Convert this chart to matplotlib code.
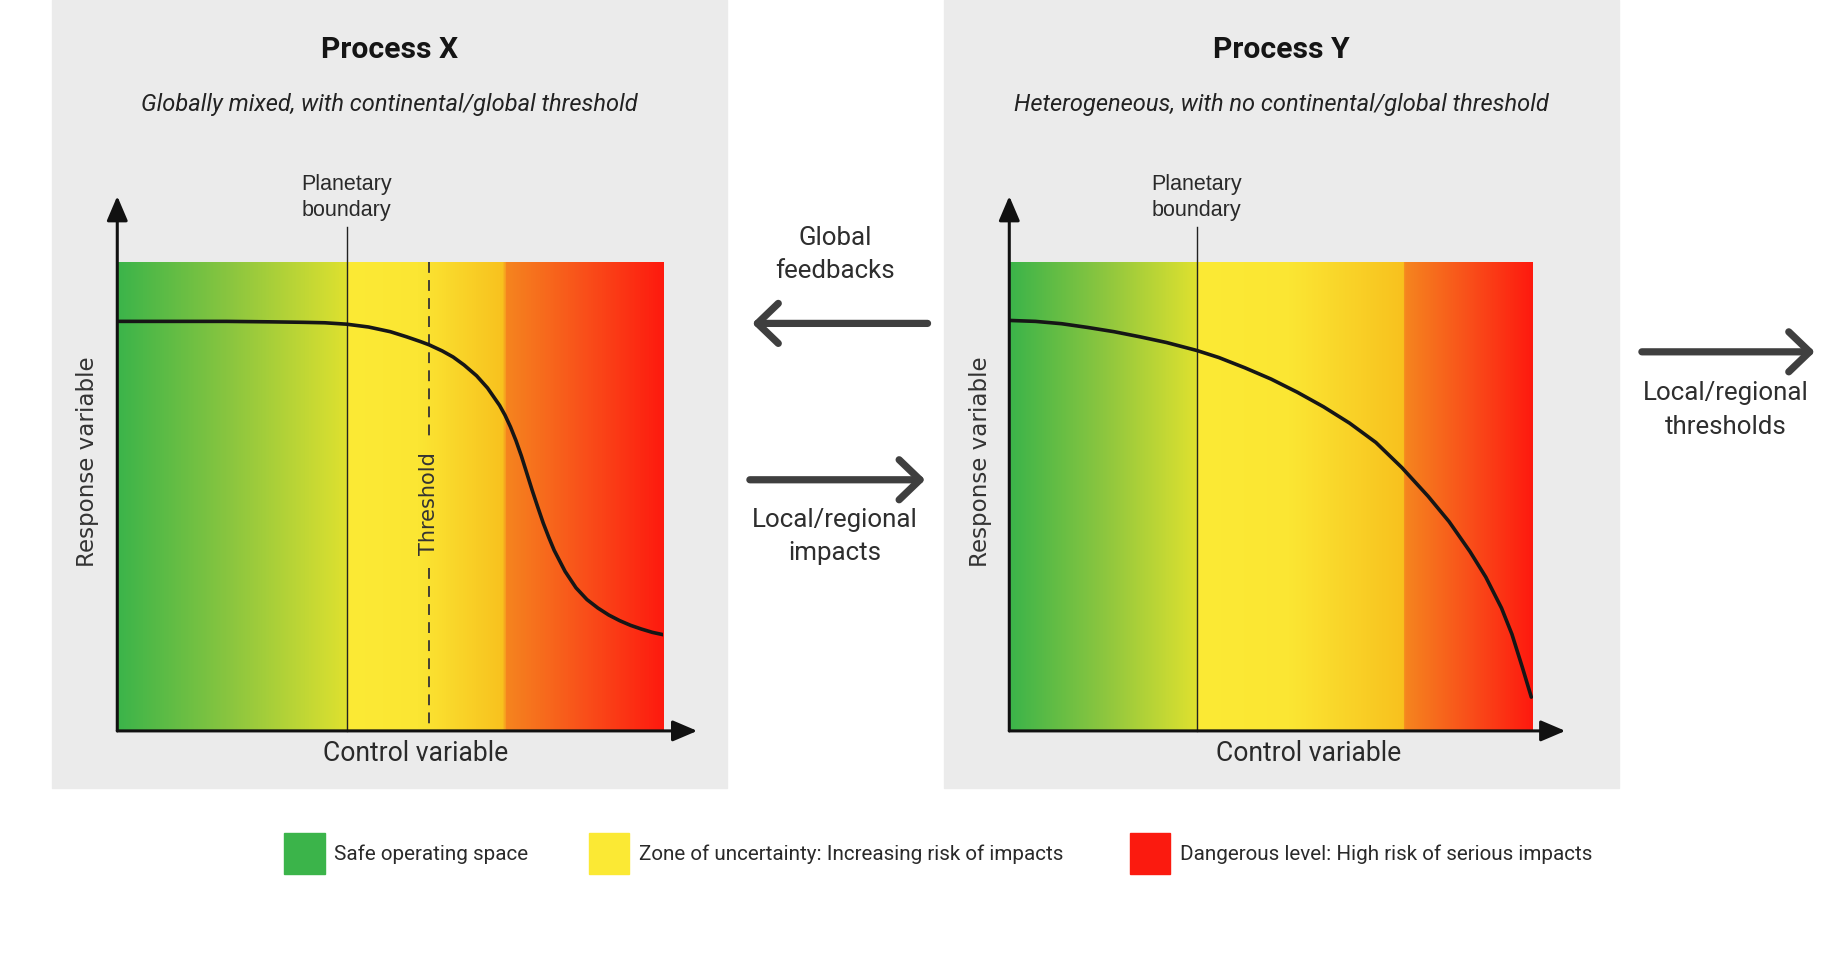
import numpy as np
import matplotlib
matplotlib.use("Agg")
from matplotlib import pyplot as plt
from matplotlib.colors import LinearSegmentedColormap
from matplotlib.patches import Rectangle

narrow = "Roboto"

# curve for process X (control variable -> response variable, 0..1 of the box)
x_proc_x = [0.0, 0.10, 0.20, 0.28, 0.34, 0.38, 0.42, 0.46, 0.50, 0.53, 0.555, 0.571,
            0.595, 0.615, 0.635, 0.658, 0.678, 0.70, 0.71, 0.72, 0.73, 0.74, 0.75, 0.76,
            0.77, 0.78, 0.79, 0.80, 0.82, 0.84, 0.86, 0.88, 0.90, 0.92, 0.94, 0.96, 0.98,
            1.0]
y_proc_x = [0.873, 0.873, 0.873, 0.872, 0.871, 0.870, 0.867, 0.861, 0.851, 0.840, 0.830,
            0.823, 0.810, 0.797, 0.780, 0.757, 0.731, 0.694, 0.673, 0.648, 0.619, 0.586,
            0.549, 0.512, 0.477, 0.443, 0.413, 0.385, 0.340, 0.305, 0.280, 0.262, 0.247,
            0.235, 0.225, 0.217, 0.210, 0.205]

# curve for process Y
x_proc_y = [0.0, 0.05, 0.10, 0.15, 0.20, 0.25, 0.30, 0.358, 0.40, 0.45, 0.50, 0.55, 0.60,
            0.65, 0.70, 0.75, 0.80, 0.84, 0.88, 0.91, 0.94, 0.96, 0.98, 0.997]
y_proc_y = [0.875, 0.873, 0.868, 0.860, 0.851, 0.840, 0.828, 0.811, 0.796, 0.774, 0.750,
            0.722, 0.691, 0.656, 0.615, 0.561, 0.500, 0.446, 0.382, 0.328, 0.262, 0.206,
            0.135, 0.072]

boundary = [0.42, 0.358]     # planetary boundary position
danger = [0.709, 0.755]      # start of the dangerous zone
threshold_x = 0.571          # process X threshold

titles = ["Process X", "Process Y"]
subtitles = ["Globally mixed, with continental/global threshold",
             "Heterogeneous, with no continental/global threshold"]

legend_labels = ["Safe operating space",
                 "Zone of uncertainty: Increasing risk of impacts",
                 "Dangerous level: High risk of serious impacts"]
legend_colors = ["#3bb44a", "#fbe934", "#fb1a0f"]


def zone_cmap(b, d):
    nodes = [(0.0, "#3bb44a"), (b * 0.5, "#8cc63f"), (b, "#dfe12f"),
             (b + 0.002, "#fcea35"), (b + 0.45 * (d - b), "#fbe633"), (d, "#f8c11e"),
             (d + 0.002, "#f5851f"), ((d + 1) / 2, "#f9501a"), (1.0, "#fe1a0f")]
    return LinearSegmentedColormap.from_list("zones", nodes)


W, H = 1560, 818
fig = plt.figure(figsize=(18.48, 9.69), dpi=100)
fig.patch.set_facecolor("white")

bg = fig.add_axes([0, 0, 1, 1])
bg.set_xlim(0, W)
bg.set_ylim(H, 0)
bg.axis("off")

panel_left = [44, 797]
for i, px in enumerate(panel_left):
    bg.add_patch(Rectangle((px, 0), 570, 665, color="#ebebeb", zorder=0))
    cx = px + 285
    bg.text(cx, 42, titles[i], ha="center", va="center", fontsize=21.7,
            fontweight="bold", family=narrow, color="#151515")
    bg.text(cx, 88, subtitles[i], ha="center", va="center", fontsize=17,
            style="italic", family=narrow, color="#222222")


def box(x0, y0, x1, y1):
    return [x0 / W, 1 - y1 / H, (x1 - x0) / W, (y1 - y0) / H]


axes = [fig.add_axes(box(99, 221, 560, 617)), fig.add_axes(box(852, 221, 1294, 617))]
curves = [(x_proc_x, y_proc_x), (x_proc_y, y_proc_y)]
label_x = [0.547, 0.572]

for i, ax in enumerate(axes):
    ax.set_xlim(0, 1)
    ax.set_ylim(0, 1)
    ax.axis("off")
    grad = np.linspace(0, 1, 1500)[None, :]
    ax.imshow(grad, cmap=zone_cmap(boundary[i], danger[i]), extent=[0, 1, 0, 1],
              aspect="auto", zorder=0)
    ax.plot(curves[i][0], curves[i][1], color="#161616", lw=2.6,
            solid_capstyle="round", solid_joinstyle="round", zorder=4)
    ax.plot([boundary[i], boundary[i]], [0, 1.075], color="#222222", lw=1.0,
            clip_on=False, zorder=3)
    ax.text(boundary[i], 1.137, "Planetary\nboundary", ha="center", va="center",
            fontsize=15.5, family="Liberation Sans", color="#2a2a2a",
            linespacing=1.35, transform=ax.transAxes)
    # axis arrows
    head = dict(arrowstyle="-|>,head_length=0.75,head_width=0.32", lw=2.2,
                color="#111111", shrinkA=0, shrinkB=0, mutation_scale=20)
    ax.annotate("", xy=(1.062, 0), xytext=(0, 0), xycoords="axes fraction",
                arrowprops=head, zorder=5, annotation_clip=False)
    ax.annotate("", xy=(0, 1.14), xytext=(0, 0), xycoords="axes fraction",
                arrowprops=head, zorder=5, annotation_clip=False)
    ax.text(-0.055, 0.573, "Response variable", rotation=90, ha="center", va="center",
            fontsize=16.6, family="DejaVu Sans", color="#333333", transform=ax.transAxes)
    ax.text(label_x[i], -0.048, "Control variable", ha="center", va="center",
            fontsize=19.1, family=narrow, color="#2a2a2a", transform=ax.transAxes)

# threshold of process X
ax = axes[0]
ax.plot([threshold_x, threshold_x], [1.0, 0.628], color="#333333", lw=1.3,
        linestyle=(0, (6, 4)), zorder=3)
ax.plot([threshold_x, threshold_x], [0.347, 0.0], color="#333333", lw=1.3,
        linestyle=(0, (6, 4)), zorder=3)
ax.text(threshold_x, 0.485, "Threshold", rotation=90, ha="center", va="center",
        fontsize=15, family="DejaVu Sans", color="#333333")

# feedback / impact arrows
arrow = dict(arrowstyle="->,head_length=0.75,head_width=0.72", lw=5.2,
             color="#3f3f3f", shrinkA=0, shrinkB=0, mutation_scale=20)
bg.annotate("", xy=(635, 273), xytext=(783, 273), arrowprops=arrow)
bg.annotate("", xy=(781, 405), xytext=(633, 405), arrowprops=arrow)
bg.annotate("", xy=(1532, 297), xytext=(1386, 297), arrowprops=arrow)
side_text = dict(ha="center", va="center", fontsize=18.6, family=narrow,
                 color="#2e2e2e", linespacing=1.5)
bg.text(705, 215, "Global\nfeedbacks", **side_text)
bg.text(705, 453, "Local/regional\nimpacts", **side_text)
bg.text(1457, 346, "Local/regional\nthresholds", **side_text)

# legend
legend_x = [240, 497, 954]
for lx, lab, col in zip(legend_x, legend_labels, legend_colors):
    bg.add_patch(Rectangle((lx, 703), 34, 35, color=col))
    bg.text(lx + 42, 721, lab, ha="left", va="center", fontsize=14.9, family=narrow,
            color="#2a2a2a")

fig.savefig("out.png", dpi=100)
